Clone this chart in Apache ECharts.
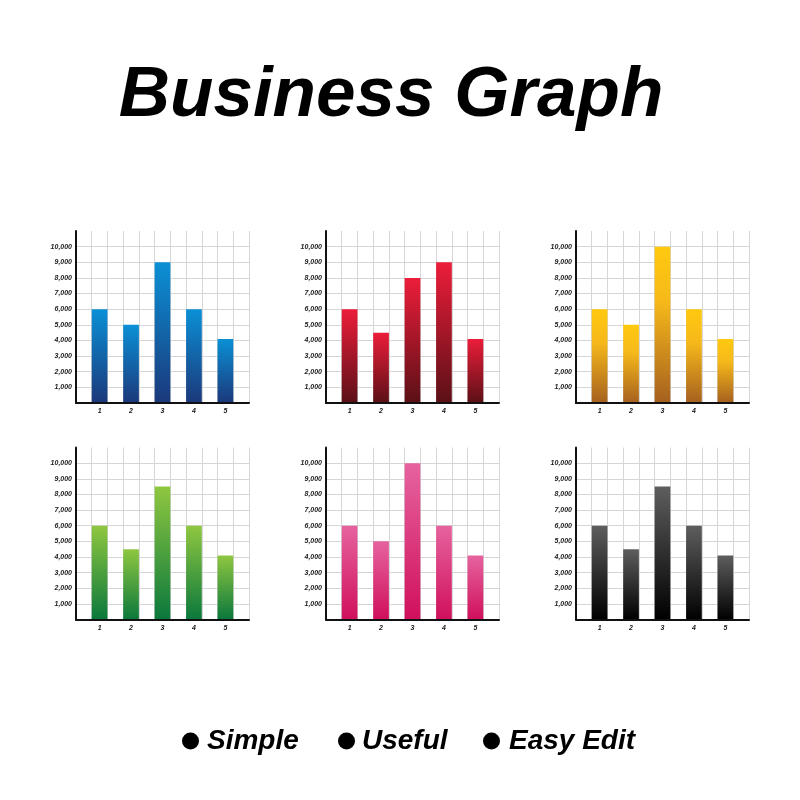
<!DOCTYPE html>
<html>
<head>
<meta charset="utf-8">
<script src="https://cdn.jsdelivr.net/npm/echarts/dist/echarts.min.js"></script>
<style>
html,body{margin:0;padding:0;background:#ffffff;}
#chart{width:800px;height:800px;}
</style>
</head>
<body>
<div id="chart"></div>
<script>
// ---- data ----
const categories = ['1', '2', '3', '4', '5'];
const blueValues   = [6000, 5000, 9000, 6000, 4100];
const redValues    = [6000, 4500, 8000, 9000, 4100];
const orangeValues = [6000, 5000, 10000, 6000, 4100];
const greenValues  = [6000, 4500, 8500, 6000, 4100];
const pinkValues   = [6000, 5000, 10000, 6000, 4100];
const blackValues  = [6000, 4500, 8500, 6000, 4100];
const yTickMax = 10000;
const yTickStep = 1000;
const titleText = 'Business Graph';
const featureTexts = ['Simple', 'Useful', 'Easy Edit'];

// ---- layout / style ----
const FONT = '"Liberation Sans", Arial, Helvetica, sans-serif';
const W = 173, H = 172;
const colsX = [76, 326, 576];
const rowsY = [231, 447.5];
const panels = [
  { values: blueValues,   col: 0, row: 0, stops: [[0, '#0b90d6'], [1, '#1b387a']] },
  { values: redValues,    col: 1, row: 0, stops: [[0, '#ec1d3a'], [1, '#5a1016']] },
  { values: orangeValues, col: 2, row: 0, stops: [[0, '#ffc90f'], [0.35, '#f6b91a'], [1, '#a5601f']] },
  { values: greenValues,  col: 0, row: 1, stops: [[0, '#8fc740'], [1, '#0a783c']] },
  { values: pinkValues,   col: 1, row: 1, stops: [[0, '#e6639f'], [1, '#d0105b']] },
  { values: blackValues,  col: 2, row: 1, stops: [[0, '#5e5e5e'], [1, '#000000']] }
];

const grid = [], xAxis = [], yAxis = [], series = [];
const labelStyle = { fontFamily: FONT, fontSize: 7, fontWeight: 'bold', fontStyle: 'italic', color: '#1a1a1a' };
const gridLineColor = '#d6d6d6';
const fmt = v => String(v).replace(/\B(?=(\d{3})+(?!\d))/g, ',');

panels.forEach((p) => {
  const L = colsX[p.col], T = rowsY[p.row];
  const u = W / 11, uy = H / 11;
  const gi = grid.length;
  // Grid A: full frame, vertical grid lines + y axis line
  grid.push({ left: L, top: T, width: W, height: H, outerBoundsMode: 'none', containLabel: false });
  xAxis.push({ gridIndex: gi, type: 'value', min: 0, max: 11, interval: 1,
    axisLine: { show: false }, axisTick: { show: false }, axisLabel: { show: false },
    splitLine: { show: true, lineStyle: { color: gridLineColor, width: 1 } } });
  yAxis.push({ gridIndex: gi, type: 'value', min: 0, max: 11, interval: 1,
    axisLine: { show: true, lineStyle: { color: '#111', width: 2 } }, axisTick: { show: false },
    axisLabel: { show: false }, splitLine: { show: false } });
  // Grid C: horizontal grid lines + y labels + x axis line
  grid.push({ left: L, top: T + uy, width: W, height: H - uy, outerBoundsMode: 'none', containLabel: false });
  xAxis.push({ gridIndex: gi + 1, type: 'value', min: 0, max: 1, z: 10,
    axisLine: { show: true, onZero: false, lineStyle: { color: '#111', width: 2 } }, axisTick: { show: false },
    axisLabel: { show: false }, splitLine: { show: false } });
  yAxis.push({ gridIndex: gi + 1, type: 'value', min: 0, max: yTickMax, interval: yTickStep,
    axisLine: { show: false }, axisTick: { show: false },
    axisLabel: Object.assign({ margin: 4, formatter: v => (v === 0 ? '' : fmt(v)) }, labelStyle),
    splitLine: { show: true, lineStyle: { color: gridLineColor, width: 1 } } });
  // Grid B: bars
  grid.push({ left: L + u / 2, top: T + uy, width: W - u, height: H - uy, outerBoundsMode: 'none', containLabel: false });
  xAxis.push({ gridIndex: gi + 2, type: 'category', data: categories,
    axisLine: { show: false }, axisTick: { show: false },
    axisLabel: Object.assign({ margin: 5, interval: 0 }, labelStyle), splitLine: { show: false } });
  yAxis.push({ gridIndex: gi + 2, type: 'value', min: 0, max: yTickMax, show: false });
  series.push({
    type: 'bar', xAxisIndex: gi + 2, yAxisIndex: gi + 2, data: p.values,
    barWidth: '50%', silent: true,
    itemStyle: { color: { type: 'linear', x: 0, y: 0, x2: 0, y2: 1,
      colorStops: p.stops.map(s => ({ offset: s[0], color: s[1] })) } }
  });
});

const legendXs = [[190.5, 207], [346.5, 362], [491.5, 509]];
const graphic = [
  { type: 'text', x: 391, y: 96, z: 10,
    style: { text: titleText, x: 0, y: 0, fill: '#000', font: 'italic bold 71px ' + FONT,
      align: 'center', textAlign: 'center', verticalAlign: 'middle', textVerticalAlign: 'middle' } }
];
featureTexts.forEach((t, i) => {
  graphic.push({ type: 'circle', shape: { cx: legendXs[i][0], cy: 741, r: 8.5 }, style: { fill: '#000' } });
  graphic.push({ type: 'text', x: legendXs[i][1], y: 741.5,
    style: { text: t, x: 0, y: 0, fill: '#000', font: 'italic bold 28px ' + FONT,
      align: 'left', textAlign: 'left', verticalAlign: 'middle', textVerticalAlign: 'middle' } });
});

const chart = echarts.init(document.getElementById('chart'), null, { renderer: 'canvas' });
chart.setOption({
  backgroundColor: '#ffffff',
  animation: false,
  grid, xAxis, yAxis, series, graphic
});
</script>
</body>
</html>
